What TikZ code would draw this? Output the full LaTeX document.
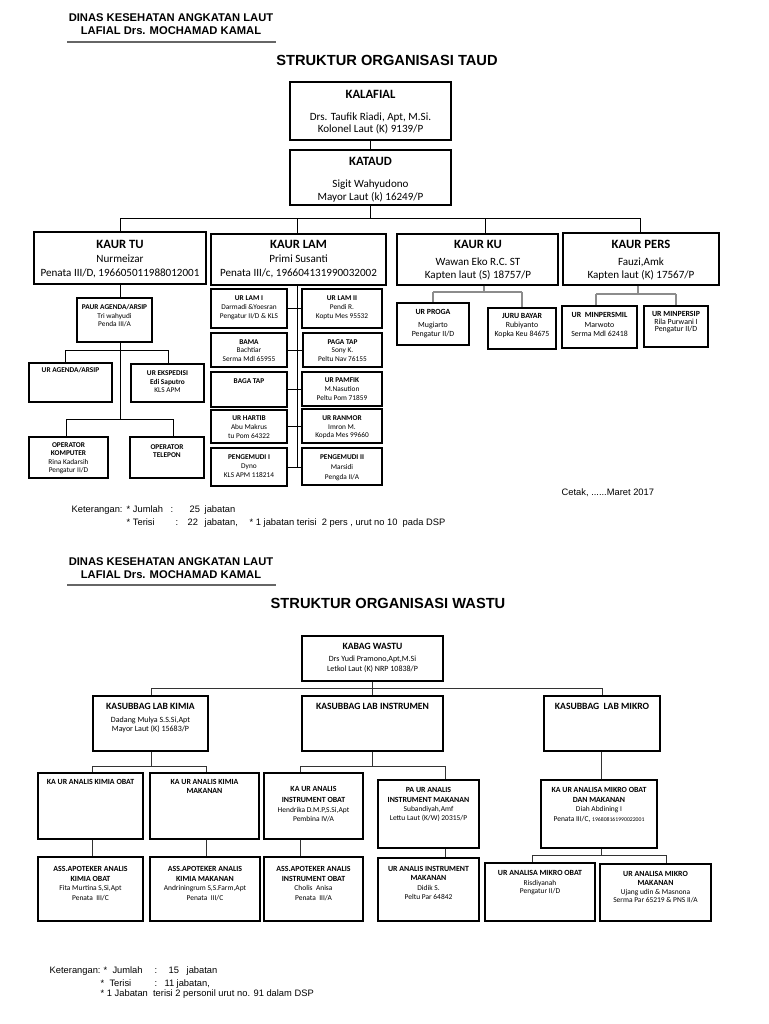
\documentclass[tikz,border=0pt]{standalone}
\usepackage{fontspec}
\setmainfont{Carlito}
\newfontfamily\arialf{Liberation Sans}
\usetikzlibrary{fit}
\newcommand\bx[5]{\node[box, fit={(#2,#3) (#4,#5)}] (#1) {};}
\newcommand\tx[4]{\node[t,#1] at (#2,#3) {#4};}
\begin{document}
\begin{tikzpicture}[x=0.75pt,y=-0.75pt,
  box/.style={draw, line width=0.9pt, inner sep=0pt},
  t/.style={anchor=mid, inner sep=0pt},
  hdr/.style={font=\arialf\bfseries\fontsize{8.4}{10}\selectfont},
  ttl/.style={font=\arialf\bfseries\fontsize{11}{13}\selectfont},
  kt/.style={anchor=mid west, font=\arialf\fontsize{7}{8}\selectfont},
  tt/.style={font=\bfseries\fontsize{9.5}{11}\selectfont},
  tb/.style={font=\fontsize{8.3}{10}\selectfont},
  st/.style={font=\bfseries\fontsize{5.5}{7}\selectfont},
  sb/.style={font=\fontsize{5.5}{7}\selectfont},
  ut/.style={font=\bfseries\fontsize{5.9}{7}\selectfont},
  ub/.style={font=\fontsize{5.9}{7}\selectfont},
  mt/.style={font=\bfseries\fontsize{7.2}{9}\selectfont},
  mb/.style={font=\fontsize{6}{7}\selectfont},
  rt/.style={font=\bfseries\fontsize{5.9}{7}\selectfont},
  rb/.style={font=\fontsize{5.6}{7}\selectfont},
  con/.style={line width=0.7pt, black},
  gcon/.style={line width=1pt, black!45},
  scon/.style={line width=0.6pt, black!80}
]
\useasboundingbox[fill=white] (0,0) rectangle (768,1024);

% ================= HEADER 1 =================
\node[t,hdr] (h1a) at (171,18) {DINAS KESEHATAN ANGKATAN LAUT};
\node[t,hdr] (h1b) at (171,31.5) {LAFIAL Drs. MOCHAMAD KAMAL};
\coordinate (u1a) at (67,42); \coordinate (u1b) at (276,42);
\draw[line width=1.5pt, black!60] (u1a) -- (u1b);
\node[t,ttl] (title1) at (387,62) {STRUKTUR ORGANISASI TAUD};

% ================= TOP CHART =================
\bx{kalafial}{290}{82}{451}{140}
\tx{tt}{370.5}{95}{KALAFIAL}
\tx{tb}{370.5}{117}{Drs. Taufik Riadi, Apt, M.Si.}
\tx{tb}{370.5}{129}{Kolonel Laut (K) 9139/P}
\bx{kataud}{290}{150}{451}{205}
\tx{tt}{370.5}{162}{KATAUD}
\tx{tb}{370.5}{184}{Sigit Wahyudono}
\tx{tb}{370.5}{197}{Mayor Laut (k) 16249/P}
\draw[con] (kalafial.south) -- (kataud.north);

\bx{kaurtu}{34}{232}{206}{284}
\tx{tt}{120}{245}{KAUR TU}
\tx{tb}{120}{259}{Nurmeizar}
\tx{tb}{120}{273}{Penata III/D, 196605011988012001}
\bx{kaurlam}{211}{234}{386}{285}
\tx{tt}{298.5}{245}{KAUR LAM}
\tx{tb}{298.5}{259}{Primi Susanti}
\tx{tb}{298.5}{273}{Penata III/c, 196604131990032002}
\bx{kaurku}{397}{234}{558}{285}
\tx{tt}{478}{245}{KAUR KU}
\tx{tb}{478}{262}{Wawan Eko R.C. ST}
\tx{tb}{478}{275}{Kapten laut (S) 18757/P}
\bx{kaurpers}{563}{233}{719}{285}
\tx{tt}{641}{245}{KAUR PERS}
\tx{tb}{641}{262}{Fauzi,Amk}
\tx{tb}{641}{275}{Kapten laut (K) 17567/P}

\coordinate (bTU) at (120,218);
\coordinate (bLAM) at (297,218);
\coordinate (bKU) at (485,218);
\coordinate (bPERS) at (640,218);
\draw[con] (kataud.south) -- (kataud.south |- bTU);
\draw[con] (bTU) -- (bPERS);
\draw[con] (bTU) -- (bTU |- kaurtu.north);
\draw[con] (bLAM) -- (bLAM |- kaurlam.north);
\draw[con] (bKU) -- (bKU |- kaurku.north);
\draw[con] (bPERS) -- (bPERS |- kaurpers.north);

% ---- KAUR TU subtree ----
\bx{paur}{77}{298}{152}{342}
\tx{st}{114.5}{306}{PAUR AGENDA/ARSIP}
\tx{sb}{114.5}{315}{Tri wahyudi}
\tx{sb}{114.5}{323}{Penda III/A}
\bx{uragenda}{29}{363}{112}{402}
\tx{st}{70.5}{369}{UR AGENDA/ARSIP}
\bx{urekspedisi}{131}{364}{204}{402}
\tx{st}{167.5}{372}{UR EKSPEDISI}
\tx{st}{167.5}{381}{Edi Saputro}
\tx{sb}{167.5}{389}{KLS APM}
\bx{opkomp}{29}{437}{108}{478}
\tx{st}{68.5}{444}{OPERATOR}
\tx{st}{68.5}{452}{KOMPUTER}
\tx{sb}{68.5}{461}{Rina Kadarsih}
\tx{sb}{68.5}{469}{Pengatur II/D}
\bx{optel}{130}{437}{204}{478}
\tx{st}{167}{446}{OPERATOR}
\tx{st}{167}{454}{TELEPON}

\coordinate (tuEnd) at (120,419);
\coordinate (tu1L) at (65,350); \coordinate (tu1R) at (168,350);
\coordinate (tu2L) at (66,419); \coordinate (tu2R) at (173,419);
\draw[con] (kaurtu.south) -- (kaurtu.south |- paur.north);
\draw[con] (tuEnd |- paur.south) -- (tuEnd);
\draw[con] (tu1L) -- (tu1R);
\draw[con] (tu1L) -- (tu1L |- uragenda.north);
\draw[con] (tu1R) -- (tu1R |- urekspedisi.north);
\draw[con] (tu2L) -- (tu2R);
\draw[con] (tu2L) -- (tu2L |- opkomp.north);
\draw[con] (tu2R) -- (tu2R |- optel.north);

% ---- KAUR LAM subtree ----
\bx{urlam1}{211}{289}{287}{328}
\tx{st}{249}{297}{UR LAM I}
\tx{sb}{249}{306}{Darmadi \&Yoesran}
\tx{sb}{249}{315}{Pengatur II/D \& KLS}
\bx{urlam2}{302}{289}{382}{328}
\tx{st}{342}{297}{UR LAM II}
\tx{sb}{342}{306}{Pendi R.}
\tx{sb}{342}{315}{Koptu Mes 95532}
\bx{bama}{211}{333}{287}{367}
\tx{st}{249}{341}{BAMA}
\tx{sb}{249}{349}{Bachtiar}
\tx{sb}{249}{358}{Serma Mdl 65955}
\bx{pagatap}{303}{333}{382}{367}
\tx{st}{342.5}{341}{PAGA TAP}
\tx{sb}{342.5}{349}{Sony K.}
\tx{sb}{342.5}{358}{Peltu Nav 76155}
\bx{bagatap}{211}{372}{287}{407}
\tx{st}{249}{380}{BAGA TAP}
\bx{urpamfik}{302}{372}{382}{406}
\tx{st}{342}{379}{UR PAMFIK}
\tx{sb}{342}{388}{M.Nasution}
\tx{sb}{342}{397}{Peltu Pom 71859}
\bx{urhartib}{211}{410}{287}{443}
\tx{st}{249}{417}{UR HARTIB}
\tx{sb}{249}{426}{Abu Makrus}
\tx{sb}{249}{435}{tu Pom 64322}
\bx{urranmor}{302}{409}{382}{443}
\tx{st}{342}{417}{UR RANMOR}
\tx{sb}{342}{426}{Imron M.}
\tx{sb}{342}{434}{Kopda Mes 99660}
\bx{peng1}{211}{448}{287}{486}
\tx{st}{249}{456}{PENGEMUDI I}
\tx{sb}{249}{465}{Dyno}
\tx{sb}{249}{474}{KLS APM 118214}
\bx{peng2}{302}{448}{382}{485}
\tx{st}{342}{456}{PENGEMUDI II}
\tx{sb}{342}{466}{Marsidi}
\tx{sb}{342}{476}{Pengda II/A}

\coordinate (lamEnd) at (297,467);
\draw[con] (lamEnd |- kaurlam.south) -- (lamEnd);
\draw[con] (urlam1.east) -- (urlam1.east -| urlam2.west);
\draw[con] (bama.east) -- (bama.east -| pagatap.west);
\draw[con] (bagatap.east) -- (bagatap.east -| urpamfik.west);
\draw[con] (urhartib.east) -- (urhartib.east -| urranmor.west);
\draw[con] (peng1.east) -- (peng1.east -| peng2.west);

% ---- KAUR KU subtree ----
\bx{urproga}{397}{303}{469}{345}
\tx{ut}{433}{311}{UR PROGA}
\tx{ub}{433}{324}{Mugiarto}
\tx{ub}{433}{333}{Pengatur II/D}
\bx{jurubayar}{488}{308}{556}{349}
\tx{ut}{522}{315}{JURU BAYAR}
\tx{ub}{522}{324}{Rubiyanto}
\tx{ub}{522}{333}{Kopka Keu 84675}
\coordinate (kuJ) at (484,292);
\coordinate (kuL) at (433,292); \coordinate (kuR) at (522,292);
\draw[gcon] (kuJ |- kaurku.south) -- (kuJ);
\draw[gcon] (kuL) -- (kuR);
\draw[gcon] (kuL) -- (kuL |- urproga.north);
\draw[gcon] (kuR) -- (kuR |- jurubayar.north);

% ---- KAUR PERS subtree ----
\bx{minpersmil}{562}{306}{637}{348}
\tx{ut}{599.5}{314}{UR\ \ MINPERSMIL}
\tx{ub}{599.5}{324}{Marwoto}
\tx{ub}{599.5}{333}{Serma Mdl 62418}
\bx{minpersip}{644}{306}{708}{347}
\tx{ut}{676}{313}{UR MINPERSIP}
\tx{ub}{676}{321}{Rila Purwani I}
\tx{ub}{676}{328}{Pengatur II/D}
\coordinate (peJ) at (638,294);
\coordinate (peL) at (596,294); \coordinate (peR) at (676,294);
\draw[gcon] (peJ |- kaurpers.south) -- (peJ);
\draw[gcon] (peL) -- (peR);
\draw[gcon] (peL) -- (peL |- minpersmil.north);
\draw[gcon] (peR) -- (peR |- minpersip.north);

% ---- notes 1 ----
\node[kt] (cetak) at (557,492) {Cetak, ......Maret 2017};
\node[kt] (k1a) at (67,509) {Keterangan:};
\node[kt] (k1b) at (122,509) {*\ Jumlah};
\node[kt] (k1c) at (166,509) {:};
\node[kt] (k1d) at (185,509) {25};
\node[kt] (k1e) at (200,509) {jabatan};
\node[kt] (k2b) at (122,522) {*\ Terisi};
\node[kt] (k2c) at (171,522) {:};
\node[kt] (k2d) at (183,522) {22};
\node[kt] (k2e) at (200,522) {jabatan,};
\node[kt] (k2f) at (245,522) {*\ 1 jabatan terisi\ \ 2 pers , urut no 10\ \ pada DSP};

% ================= HEADER 2 =================
\node[t,hdr] (h2a) at (171,562) {DINAS KESEHATAN ANGKATAN LAUT};
\node[t,hdr] (h2b) at (171,575) {LAFIAL Drs. MOCHAMAD KAMAL};
\coordinate (u2a) at (67,585); \coordinate (u2b) at (276,585);
\draw[line width=1.5pt, black!60] (u2a) -- (u2b);
\node[t,ttl] (title2) at (388,605) {STRUKTUR ORGANISASI WASTU};

% ================= BOTTOM CHART =================
\bx{kabag}{302}{636}{443}{681}
\tx{mt}{372.5}{646}{KABAG WASTU}
\tx{mb}{372.5}{658}{Drs Yudi Pramono,Apt,M.Si}
\tx{mb}{372.5}{668}{Letkol Laut (K) NRP 10838/P}

\bx{kimia}{93}{696}{208}{751}
\tx{mt}{150.5}{706}{KASUBBAG LAB KIMIA}
\tx{mb}{150.5}{719}{Dadang Mulya S.S.Si,Apt}
\tx{mb}{150.5}{728}{Mayor Laut (K) 15683/P}
\bx{instr}{302}{696}{443}{751}
\tx{mt}{372.5}{706}{KASUBBAG LAB INSTRUMEN}
\bx{mikro}{544}{696}{660}{751}
\tx{mt}{602}{706}{KASUBBAG\ \ LAB MIKRO}

\coordinate (wA) at (151,688);
\coordinate (wB) at (372.5,688);
\coordinate (wC) at (602,688);
\draw[scon] (kabag.south) -- (kabag.south |- wB);
\draw[scon] (wA) -- (wC);
\draw[scon] (wA) -- (wA |- kimia.north);
\draw[scon] (wB) -- (wB |- instr.north);
\draw[scon] (wC) -- (wC |- mikro.north);

% row KA UR
\bx{kaKimObat}{38}{773}{143}{839}
\tx{rt}{90.5}{781}{KA UR ANALIS KIMIA OBAT}
\bx{kaKimMak}{150}{773}{259}{839}
\tx{rt}{204.5}{781}{KA UR ANALIS KIMIA}
\tx{rt}{204.5}{790}{MAKANAN}
\bx{kaInsObat}{264}{773}{363}{839}
\tx{rt}{313.5}{788}{KA UR ANALIS}
\tx{rt}{313.5}{799}{INSTRUMENT OBAT}
\tx{rb}{313.5}{809}{Hendrika D.M.P,S.Si,Apt}
\tx{rb}{313.5}{818}{Pembina IV/A}
\bx{paInsMak}{378}{780}{479}{848}
\tx{rt}{428.5}{789}{PA UR ANALIS}
\tx{rt}{428.5}{799}{INSTRUMENT MAKANAN}
\tx{rb}{428.5}{808}{Subandiyah,Amf}
\tx{rb}{428.5}{817}{Lettu Laut (K/W) 20315/P}
\bx{kaMikro}{541}{780}{657}{848}
\tx{rt}{599}{789}{KA UR ANALISA MIKRO OBAT}
\tx{rt}{599}{799}{DAN MAKANAN}
\tx{rb}{599}{808}{Diah Abdining I}
\tx{rb}{599}{818}{Penata III/C, {\fontsize{4.3}{5}\selectfont 196808161990022001}}

\coordinate (kA) at (92,766); \coordinate (kB) at (206,766);
\coordinate (iA) at (300,766); \coordinate (iB) at (445,766);
\coordinate (mX) at (601,766);
\draw[scon] (kimia.south -| wA) -- (wA |- kA);
\draw[scon] (kA) -- (kB);
\draw[scon] (kA) -- (kA |- kaKimObat.north);
\draw[scon] (kB) -- (kB |- kaKimMak.north);
\draw[scon] (instr.south) -- (instr.south |- iA);
\draw[scon] (iA) -- (iB);
\draw[scon] (iA) -- (iA |- kaInsObat.north);
\draw[scon] (iB) -- (iB |- paInsMak.north);
\draw[scon] (mX |- mikro.south) -- (mX |- kaMikro.north);

% row ASS
\bx{assKimObat}{38}{857}{143}{921}
\tx{rt}{90.5}{868}{ASS.APOTEKER ANALIS}
\tx{rt}{90.5}{878}{KIMIA OBAT}
\tx{rb}{90.5}{887}{Fita Murtina S,Si,Apt}
\tx{rb}{90.5}{897}{Penata\ \ III/C}
\bx{assKimMak}{150}{857}{260}{921}
\tx{rt}{205}{868}{ASS.APOTEKER ANALIS}
\tx{rt}{205}{878}{KIMIA MAKANAN}
\tx{rb}{205}{887}{Andriningrum S,S.Farm,Apt}
\tx{rb}{205}{897}{Penata\ \ III/C}
\bx{assInsObat}{264}{857}{363}{921}
\tx{rt}{313.5}{868}{ASS.APOTEKER ANALIS}
\tx{rt}{313.5}{878}{INSTRUMENT OBAT}
\tx{rb}{313.5}{887}{Cholis\ \ Anisa}
\tx{rb}{313.5}{897}{Penata\ \ III/A}
\bx{urInsMak}{378}{858}{479}{921}
\tx{rt}{428.5}{868}{UR ANALIS INSTRUMENT}
\tx{rt}{428.5}{877}{MAKANAN}
\tx{rb}{428.5}{887}{Didik S.}
\tx{rb}{428.5}{896}{Peltu Par 64842}
\bx{urMikObat}{485}{863}{595}{921}
\tx{rt}{540}{872}{UR ANALISA MIKRO OBAT}
\tx{rb}{540}{882}{Risdiyanah}
\tx{rb}{540}{890}{Pengatur II/D}
\bx{urMikMak}{600}{864}{711}{921}
\tx{rt}{655.5}{873}{UR ANALISA MIKRO}
\tx{rt}{655.5}{882}{MAKANAN}
\tx{rb}{655.5}{891}{Ujang udin \& Masnona}
\tx{rb}{655.5}{899}{Serma Par 65219 \& PNS II/A}

\coordinate (mJ) at (601,855);
\coordinate (mL) at (532,855); \coordinate (mR) at (666,855);
\draw[scon] (kA |- kaKimObat.south) -- (kA |- assKimObat.north);
\draw[scon] (kB |- kaKimMak.south) -- (kB |- assKimMak.north);
\draw[scon] (iA |- kaInsObat.south) -- (iA |- assInsObat.north);
\draw[scon] (iB |- paInsMak.south) -- (iB |- urInsMak.north);
\draw[scon] (mJ |- kaMikro.south) -- (mJ);
\draw[scon] (mL) -- (mR);
\draw[scon] (mL) -- (mL |- urMikObat.north);
\draw[scon] (mR) -- (mR |- urMikMak.north);

% ---- notes 2 ----
\node[kt] (n1a) at (45,970) {Keterangan:};
\node[kt] (n1b) at (99,970) {*\ \ Jumlah};
\node[kt] (n1c) at (150,970) {:};
\node[kt] (n1d) at (164,970) {15};
\node[kt] (n1e) at (182,970) {jabatan};
\node[kt] (n2b) at (96,983) {*\ \ Terisi};
\node[kt] (n2c) at (150,983) {:};
\node[kt] (n2d) at (160,983) {11};
\node[kt] (n2e) at (172,983) {jabatan,};
\node[kt] (n3b) at (96,993) {*\ 1 Jabatan\ \ terisi 2 personil urut no. 91 dalam DSP};
\end{tikzpicture}
\end{document}
